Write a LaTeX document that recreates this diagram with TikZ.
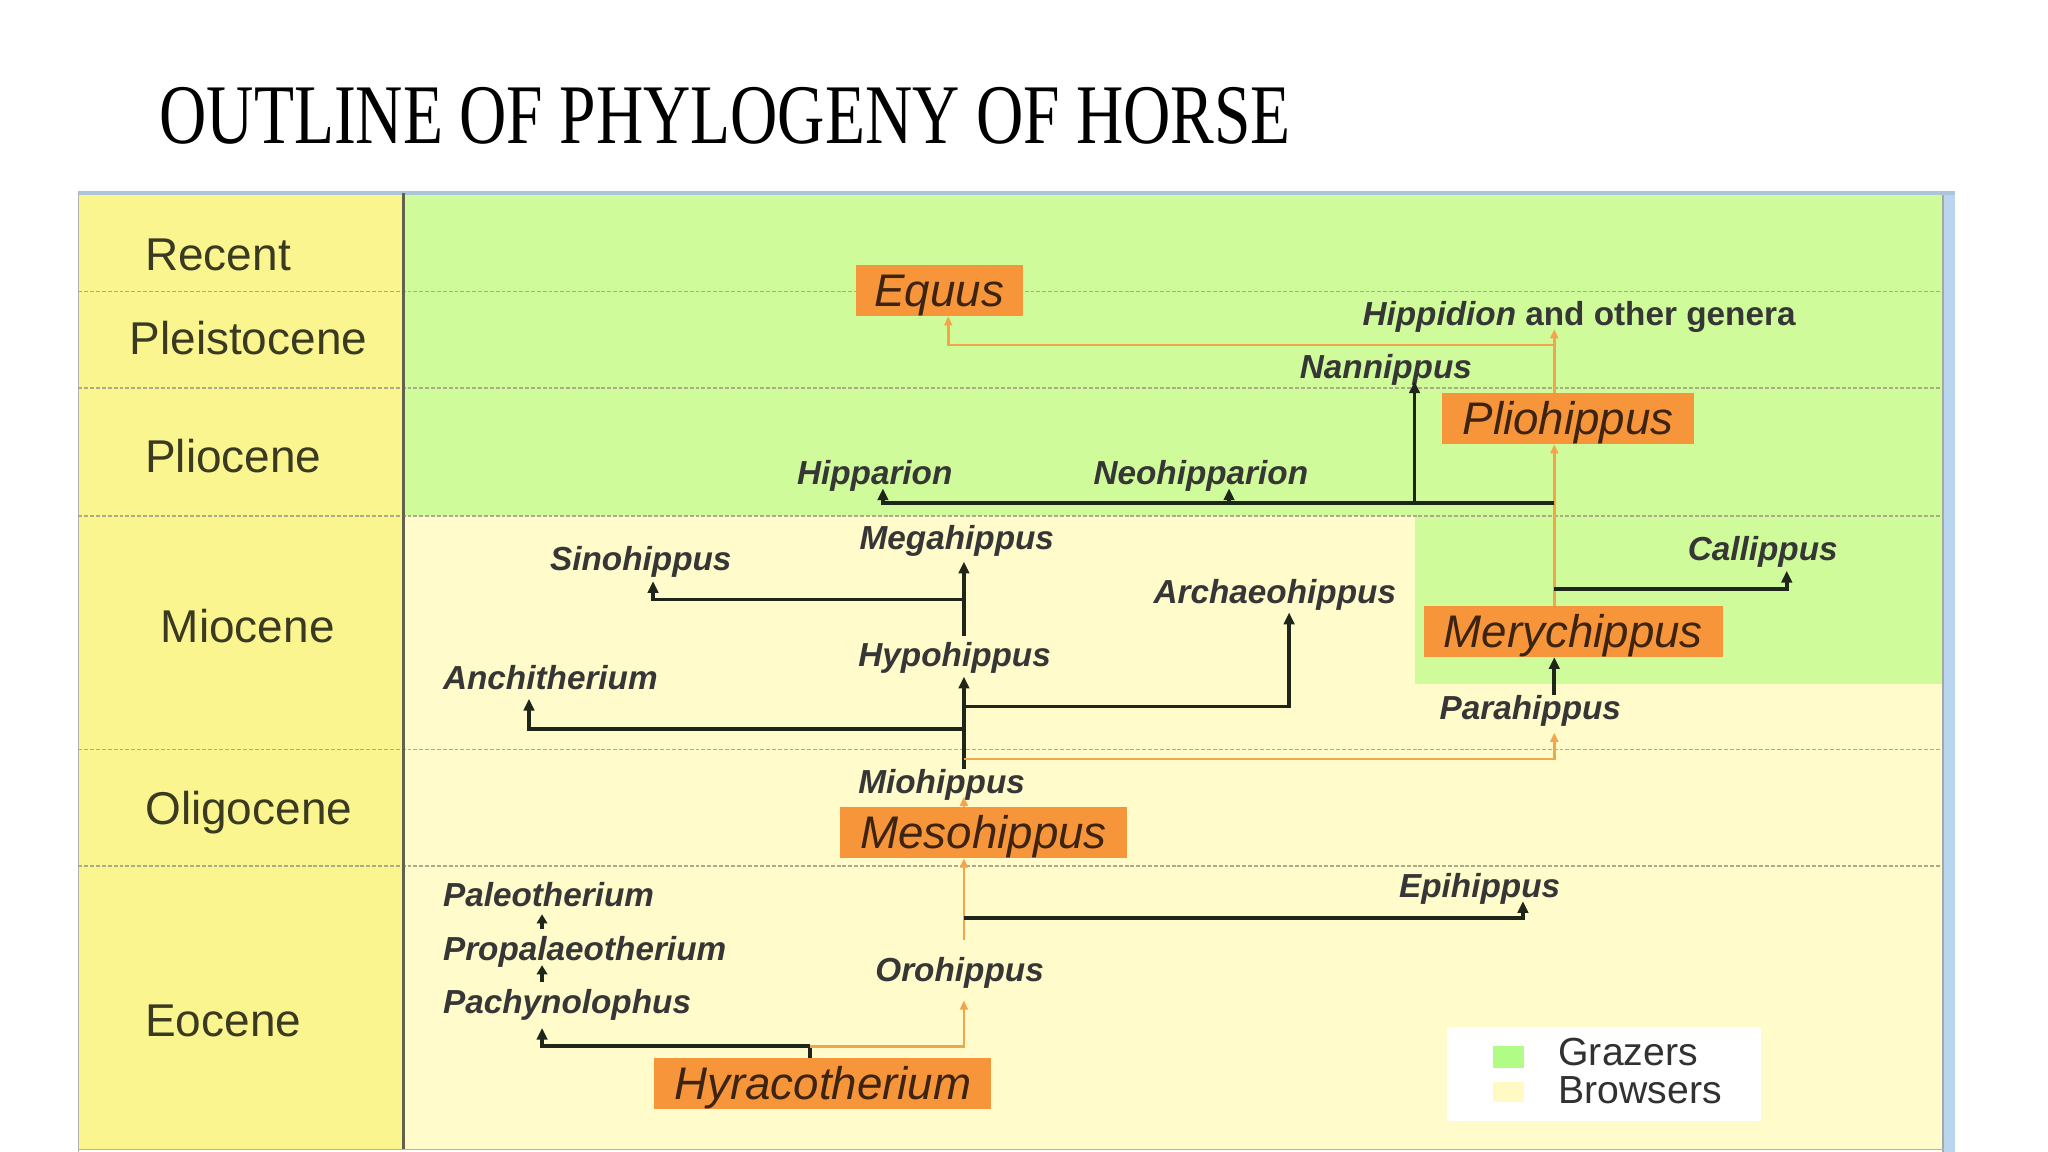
\documentclass[tikz,border=0pt]{standalone}
\usepackage{graphicx}
\usepackage{fontspec}
\setmainfont{Liberation Sans}
\newfontfamily\titlefont{Liberation Serif}
\usetikzlibrary{arrows.meta}
\definecolor{grass}{HTML}{CFFB9B}
\definecolor{cream}{HTML}{FFFBCB}
\definecolor{leftyel}{HTML}{FAF58E}
\definecolor{boxorange}{HTML}{F7953A}
\definecolor{lineorange}{HTML}{F2A54A}
\definecolor{boxtext}{HTML}{3D2412}
\definecolor{labtext}{HTML}{363636}
\definecolor{eratext}{HTML}{3A3A22}
\definecolor{linedark}{HTML}{1E261A}
\definecolor{divider}{HTML}{ABAB8C}
\definecolor{bordblue}{HTML}{B9D6EE}
\definecolor{legyel}{HTML}{FFF9C4}
\tikzset{
  era/.style={anchor=base west, inner sep=0pt, font=\fontsize{35.2}{40}\selectfont, text=eratext},
  taxon/.style={anchor=base west, inner sep=0pt, font=\fontsize{25.5}{30}\selectfont\bfseries\itshape, text=labtext},
  genus/.style={fill=boxorange, inner sep=0pt, minimum height=39pt, text height=25pt, text depth=0pt,
    font=\fontsize{35}{40}\selectfont\itshape, text=boxtext},
  blk/.style={draw=linedark, line width=2.8pt, -{Triangle[length=9pt,width=8pt]}},
  blkshort/.style={draw=linedark, line width=2.8pt, -{Triangle[length=7pt,width=8pt]}},
  org/.style={draw=lineorange, line width=2pt, -{Triangle[length=7pt,width=6pt]}},
  divline/.style={draw=divider, line width=1pt, dash pattern=on 3pt off 1.5pt},
  legtext/.style={anchor=base west, inner sep=0pt, font=\fontsize{30}{34}\selectfont, text=labtext!90!black},
}
\begin{document}
\begin{tikzpicture}[x=1pt,y=-1pt]
\useasboundingbox (0,0) rectangle (1568,882);
\fill[white] (0,0) rectangle (1568,882);

% title
\node[anchor=base west, inner sep=0pt] (title) at (122,110)
  {\resizebox{866pt}{43pt}{\titlefont OUTLINE OF PHYLOGENY OF HORSE}};

% backgrounds
\fill[leftyel] (60,148) rectangle (309,880);
\fill[cream] (309,148) rectangle (1488,880);
\fill[grass] (309,148) rectangle (1488,395);
\fill[grass] (1083,395) rectangle (1488,524);
\fill[bordblue] (1488,146) rectangle (1497,882);
\draw[gray!70, line width=1pt] (1487.5,148) -- (1487.5,882);
\draw[bordblue!80!gray, line width=3pt] (60,147.5) -- (1497,147.5);
\draw[gray!60, line width=1pt] (60,148) -- (60,882);
\draw[gray!60, line width=1pt] (60,880) -- (1488,880);
\foreach \yy in {223,297,395,574,663}
  \draw[divline] (60,\yy) -- (1487,\yy);
\draw[draw=eratext!80, line width=1.8pt] (309,148) -- (309,880);

% era labels
\node[era] (recent) at (111,206.8) {Recent};
\node[era] (pleist) at (99,271.6) {Pleistocene};
\node[era] (plioc) at (111,361.6) {Pliocene};
\node[era] (mioc) at (123,492) {Miocene};
\node[era] (oligo) at (111,631.6) {Oligocene};
\node[era] (eoc) at (111,793.6) {Eocene};

% orange genus boxes
\node[genus, minimum width=128pt] (equus) at (719,222.5) {Equus};
\node[genus, minimum width=193pt] (plio) at (1200.5,320.5) {Pliohippus};
\node[genus, minimum width=229pt] (mery) at (1204.5,483.5) {Merychippus};
\node[genus, minimum width=220pt] (meso) at (753,637.5) {Mesohippus};
\node[genus, minimum width=258pt] (hyr) at (630,829.5) {Hyracotherium};

% taxon labels
\node[taxon] (hippidion) at (1043,249) {Hippidion\upshape\ and other genera};
\node[taxon] (nanni) at (995,290) {Nannippus};
\node[taxon] (hippa) at (610,371) {Hipparion};
\node[taxon] (neohip) at (837,371) {Neohipparion};
\node[taxon] (mega) at (658,421) {Megahippus};
\node[taxon] (sino) at (421,437) {Sinohippus};
\node[taxon] (calli) at (1292,429) {Callippus};
\node[taxon] (archaeo) at (883,462) {Archaeohippus};
\node[taxon] (hypo) at (657,510) {Hypohippus};
\node[taxon] (anchi) at (339,528) {Anchitherium};
\node[taxon] (para) at (1102,551) {Parahippus};
\node[taxon] (mio) at (657,607.5) {Miohippus};
\node[taxon] (epi) at (1071,687) {Epihippus};
\node[taxon] (paleo) at (339,694) {Paleotherium};
\node[taxon] (propal) at (339,735) {Propalaeotherium};
\node[taxon] (pachy) at (339,776) {Pachynolophus};
\node[taxon] (oro) at (670,751.7) {Orohippus};

% junction / tip coordinates
\coordinate (hj) at (620,801);
\coordinate (tPachy) at (415,787);
\coordinate (tOro) at (738,766);
\coordinate (oroTop) at (738,720);
\coordinate (epiJ) at (738,703);
\coordinate (tEpi) at (1166,690);
\coordinate (tMio) at (738,610);
\coordinate (mioTop) at (738,589);
\coordinate (tHypo) at (738,518);
\coordinate (hypoTop) at (738,487);
\coordinate (tMega) at (738,430);
\coordinate (sinoJ) at (738,459);
\coordinate (tSino) at (500,445);
\coordinate (archJ) at (738,541);
\coordinate (tArch) at (987,469);
\coordinate (anchJ) at (738,558);
\coordinate (tAnch) at (405,535);
\coordinate (paraJ) at (738,581);
\coordinate (tPara) at (1190,561);
\coordinate (paraTop) at (1190,532);
\coordinate (calJ) at (1190,451);
\coordinate (tCal) at (1368,437);
\coordinate (hipJ) at (1190,385);
\coordinate (tHipp) at (676,374);
\coordinate (neoJ) at (941,385);
\coordinate (tNeo) at (941,374);
\coordinate (nanJ) at (1083,385);
\coordinate (tNan) at (1083,292);
\coordinate (tHippid) at (1190,252);
\coordinate (eqJ) at (1190,264);
\coordinate (palJ1) at (415,711);
\coordinate (tPal) at (415,700);
\coordinate (palJ2) at (415,752);
\coordinate (tProp) at (415,739);

% Eocene
\draw[draw=linedark, line width=2.8pt] (hyr.north -| hj) -- (hj);
\draw[blk] (hj) -| (tPachy);
\draw[org] (hj) -| (tOro);
\draw[blkshort] (palJ1) -- (tPal);
\draw[blkshort] (palJ2) -- (tProp);
\draw[org] (oroTop) -- ([xshift=-15pt]meso.south);
\draw[blk] (epiJ) -| (tEpi);

% Oligocene / Miocene
\draw[org] ([xshift=-15pt]meso.north) -- (tMio);
\draw[blk] (mioTop) -- (tHypo);
\draw[blk] (hypoTop) -- (tMega);
\draw[blk] (sinoJ) -| (tSino);
\draw[blk] (archJ) -| (tArch);
\draw[blk] (anchJ) -| (tAnch);
\draw[org] (paraJ) -| (tPara);
\draw[blk] (paraTop) -- ([xshift=-14.5pt]mery.south);
\draw[org] ([xshift=-14.5pt]mery.north) -- ([xshift=-10.5pt]plio.south);
\draw[blk] (calJ) -| (tCal);

% Pliocene
\draw[blk] (hipJ) -| (tHipp);
\draw[blk] (neoJ) -- (tNeo);
\draw[blk] (nanJ) -- (tNan);

% Pleistocene
\draw[org] ([xshift=-10.5pt]plio.north) -- (tHippid);
\draw[org] (eqJ) -| ([xshift=7pt]equus.south);

% legend
\node[fill=white, inner sep=0pt, minimum width=240pt, minimum height=72pt] (legend) at (1228,822) {};
\node[fill=grass!85!green, inner sep=0pt, minimum width=24pt, minimum height=17pt] (gsq) at (1155,809) {};
\node[fill=legyel, inner sep=0pt, minimum width=24pt, minimum height=15pt] (ysq) at (1155,836) {};
\node[legtext] (graz) at (1193,816) {Grazers};
\node[legtext] (brow) at (1193,845) {Browsers};
\end{tikzpicture}
\end{document}
